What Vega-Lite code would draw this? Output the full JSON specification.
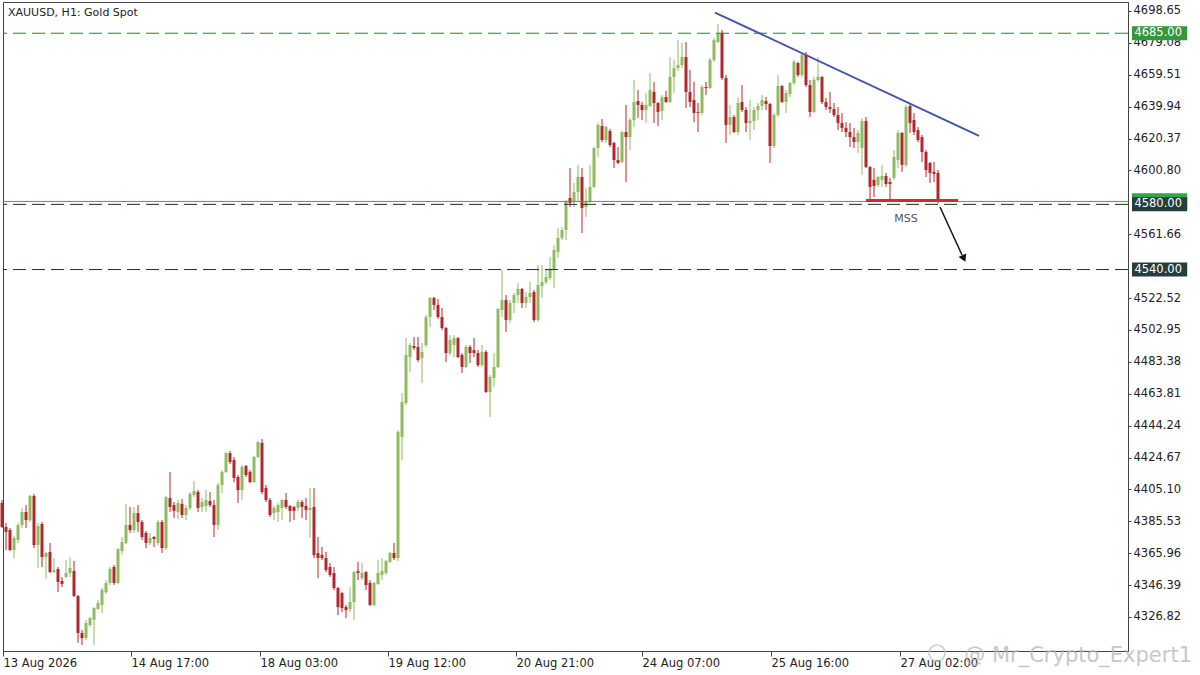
{
  "$schema": "https://vega.github.io/schema/vega-lite/v6.json",
  "width": 1125,
  "height": 649,
  "autosize": {"type": "none"},
  "padding": {"left": 3, "top": 2, "right": 72, "bottom": 24},
  "background": "white",
  "title": {"text": "XAUUSD, H1:  Gold Spot", "anchor": "start", "orient": "top", "frame": "group", "offset": -16, "dx": 5, "fontSize": 11, "fontWeight": "normal", "font": "DejaVu Sans", "color": "#222"},
  "config": {"view": {"stroke": "#444", "strokeWidth": 1}, "font": "DejaVu Sans", "axis": {"labelOverlap": false, "labelSeparation": 0, "labelFlush": false}, "scale": {"continuousPadding": 0}},
  "datasets": {
    "candles": [
      {"i":0,"o":4396.8,"h":4398.6,"l":4381.4,"c":4382.0},
      {"i":1,"o":4382.0,"h":4384.5,"l":4367.9,"c":4379.0},
      {"i":2,"o":4380.2,"h":4381.4,"l":4367.3,"c":4367.9},
      {"i":3,"o":4367.9,"h":4376.5,"l":4363.0,"c":4375.3},
      {"i":4,"o":4374.1,"h":4384.5,"l":4372.2,"c":4383.3},
      {"i":5,"o":4383.3,"h":4393.7,"l":4381.4,"c":4391.2},
      {"i":6,"o":4391.2,"h":4395.5,"l":4381.4,"c":4386.3},
      {"i":7,"o":4386.3,"h":4401.7,"l":4385.1,"c":4401.1},
      {"i":8,"o":4401.1,"h":4402.3,"l":4369.1,"c":4371.0},
      {"i":9,"o":4371.0,"h":4384.5,"l":4356.9,"c":4382.6},
      {"i":10,"o":4383.9,"h":4385.1,"l":4357.5,"c":4363.6},
      {"i":11,"o":4363.6,"h":4366.7,"l":4350.1,"c":4366.1},
      {"i":12,"o":4366.7,"h":4372.2,"l":4353.8,"c":4354.4},
      {"i":13,"o":4354.4,"h":4363.0,"l":4353.8,"c":4355.6},
      {"i":14,"o":4356.3,"h":4357.5,"l":4342.1,"c":4348.3},
      {"i":15,"o":4348.9,"h":4351.4,"l":4345.2,"c":4347.1},
      {"i":16,"o":4351.4,"h":4361.8,"l":4350.7,"c":4353.8},
      {"i":17,"o":4353.8,"h":4363.6,"l":4351.4,"c":4356.9},
      {"i":18,"o":4355.0,"h":4361.2,"l":4339.1,"c":4339.7},
      {"i":19,"o":4339.7,"h":4340.3,"l":4310.9,"c":4317.0},
      {"i":20,"o":4317.0,"h":4318.8,"l":4309.6,"c":4313.9},
      {"i":21,"o":4313.9,"h":4325.0,"l":4312.7,"c":4323.1},
      {"i":22,"o":4321.9,"h":4326.8,"l":4320.7,"c":4326.2},
      {"i":23,"o":4325.0,"h":4332.9,"l":4309.6,"c":4332.3},
      {"i":24,"o":4331.7,"h":4337.2,"l":4331.1,"c":4335.4},
      {"i":25,"o":4334.2,"h":4344.6,"l":4329.3,"c":4343.4},
      {"i":26,"o":4342.1,"h":4349.5,"l":4340.9,"c":4347.7},
      {"i":27,"o":4347.7,"h":4357.5,"l":4346.4,"c":4356.3},
      {"i":28,"o":4357.5,"h":4358.7,"l":4346.4,"c":4347.7},
      {"i":29,"o":4347.7,"h":4369.1,"l":4347.1,"c":4368.5},
      {"i":30,"o":4367.3,"h":4375.9,"l":4364.9,"c":4372.8},
      {"i":31,"o":4372.2,"h":4396.2,"l":4371.6,"c":4383.3},
      {"i":32,"o":4383.3,"h":4394.3,"l":4378.4,"c":4380.2},
      {"i":33,"o":4380.2,"h":4394.3,"l":4378.4,"c":4390.6},
      {"i":34,"o":4390.6,"h":4395.5,"l":4379.0,"c":4385.1},
      {"i":35,"o":4385.1,"h":4386.3,"l":4374.1,"c":4375.9},
      {"i":36,"o":4378.4,"h":4379.6,"l":4369.1,"c":4372.2},
      {"i":37,"o":4372.2,"h":4378.4,"l":4371.0,"c":4375.3},
      {"i":38,"o":4375.9,"h":4376.5,"l":4369.8,"c":4374.7},
      {"i":39,"o":4372.2,"h":4386.3,"l":4371.0,"c":4385.1},
      {"i":40,"o":4385.1,"h":4386.3,"l":4366.1,"c":4369.1},
      {"i":41,"o":4369.1,"h":4401.1,"l":4367.9,"c":4400.4},
      {"i":42,"o":4399.8,"h":4415.8,"l":4391.2,"c":4394.3},
      {"i":43,"o":4395.5,"h":4397.4,"l":4387.6,"c":4391.9},
      {"i":44,"o":4391.2,"h":4398.6,"l":4386.9,"c":4396.8},
      {"i":45,"o":4396.2,"h":4399.2,"l":4387.6,"c":4389.4},
      {"i":46,"o":4389.4,"h":4395.5,"l":4386.3,"c":4393.7},
      {"i":47,"o":4393.7,"h":4403.5,"l":4392.5,"c":4402.3},
      {"i":48,"o":4401.7,"h":4410.3,"l":4400.4,"c":4404.1},
      {"i":49,"o":4403.5,"h":4404.7,"l":4391.2,"c":4393.7},
      {"i":50,"o":4394.3,"h":4399.8,"l":4391.2,"c":4397.4},
      {"i":51,"o":4394.9,"h":4404.7,"l":4391.2,"c":4398.6},
      {"i":52,"o":4398.0,"h":4403.5,"l":4394.3,"c":4395.5},
      {"i":53,"o":4395.5,"h":4398.6,"l":4375.9,"c":4383.3},
      {"i":54,"o":4383.3,"h":4409.0,"l":4380.2,"c":4407.8},
      {"i":55,"o":4407.8,"h":4417.0,"l":4402.9,"c":4415.8},
      {"i":56,"o":4415.8,"h":4428.1,"l":4415.2,"c":4427.4},
      {"i":57,"o":4427.4,"h":4428.7,"l":4420.7,"c":4421.9},
      {"i":58,"o":4423.1,"h":4425.0,"l":4409.6,"c":4412.1},
      {"i":59,"o":4412.7,"h":4413.9,"l":4396.8,"c":4404.7},
      {"i":60,"o":4404.7,"h":4420.1,"l":4398.6,"c":4418.9},
      {"i":61,"o":4419.5,"h":4420.1,"l":4412.7,"c":4413.9},
      {"i":62,"o":4415.8,"h":4417.0,"l":4409.0,"c":4409.6},
      {"i":63,"o":4409.6,"h":4425.6,"l":4409.0,"c":4425.0},
      {"i":64,"o":4425.0,"h":4434.8,"l":4424.4,"c":4434.2},
      {"i":65,"o":4433.6,"h":4436.0,"l":4402.3,"c":4403.5},
      {"i":66,"o":4406.0,"h":4407.8,"l":4397.4,"c":4398.6},
      {"i":67,"o":4398.6,"h":4399.8,"l":4388.2,"c":4389.4},
      {"i":68,"o":4390.6,"h":4394.9,"l":4386.3,"c":4393.7},
      {"i":69,"o":4391.2,"h":4396.8,"l":4385.1,"c":4395.5},
      {"i":70,"o":4393.7,"h":4399.2,"l":4386.3,"c":4398.6},
      {"i":71,"o":4398.6,"h":4402.9,"l":4393.1,"c":4394.3},
      {"i":72,"o":4394.9,"h":4395.5,"l":4385.1,"c":4391.9},
      {"i":73,"o":4394.3,"h":4394.9,"l":4386.3,"c":4391.9},
      {"i":74,"o":4393.7,"h":4399.2,"l":4391.9,"c":4397.4},
      {"i":75,"o":4397.4,"h":4398.6,"l":4387.6,"c":4394.3},
      {"i":76,"o":4394.9,"h":4399.8,"l":4386.3,"c":4392.5},
      {"i":77,"o":4392.5,"h":4406.0,"l":4375.3,"c":4393.7},
      {"i":78,"o":4394.3,"h":4406.0,"l":4363.0,"c":4364.9},
      {"i":79,"o":4366.1,"h":4375.9,"l":4350.7,"c":4363.0},
      {"i":80,"o":4364.9,"h":4369.8,"l":4361.8,"c":4363.0},
      {"i":81,"o":4363.0,"h":4366.7,"l":4354.4,"c":4355.6},
      {"i":82,"o":4357.5,"h":4359.9,"l":4351.4,"c":4352.6},
      {"i":83,"o":4353.8,"h":4357.5,"l":4343.4,"c":4344.6},
      {"i":84,"o":4344.6,"h":4345.2,"l":4328.0,"c":4332.9},
      {"i":85,"o":4341.5,"h":4342.1,"l":4329.9,"c":4332.3},
      {"i":86,"o":4332.9,"h":4334.2,"l":4326.2,"c":4331.1},
      {"i":87,"o":4331.7,"h":4345.2,"l":4329.9,"c":4336.0},
      {"i":88,"o":4336.0,"h":4355.0,"l":4325.0,"c":4354.4},
      {"i":89,"o":4355.0,"h":4360.6,"l":4349.5,"c":4353.8},
      {"i":90,"o":4350.7,"h":4359.9,"l":4349.5,"c":4353.8},
      {"i":91,"o":4354.4,"h":4355.0,"l":4343.4,"c":4346.4},
      {"i":92,"o":4347.7,"h":4349.5,"l":4333.6,"c":4334.2},
      {"i":93,"o":4334.2,"h":4348.3,"l":4333.6,"c":4347.7},
      {"i":94,"o":4347.1,"h":4361.8,"l":4346.4,"c":4353.8},
      {"i":95,"o":4352.6,"h":4363.0,"l":4349.5,"c":4355.0},
      {"i":96,"o":4353.8,"h":4361.8,"l":4352.6,"c":4361.2},
      {"i":97,"o":4360.6,"h":4366.7,"l":4359.9,"c":4366.1},
      {"i":98,"o":4366.1,"h":4372.2,"l":4361.8,"c":4363.0},
      {"i":99,"o":4363.0,"h":4441.6,"l":4361.2,"c":4440.3},
      {"i":100,"o":4437.3,"h":4464.3,"l":4423.1,"c":4458.7},
      {"i":101,"o":4458.1,"h":4498.0,"l":4456.9,"c":4487.6},
      {"i":102,"o":4486.3,"h":4494.9,"l":4477.1,"c":4493.7},
      {"i":103,"o":4493.1,"h":4498.6,"l":4490.6,"c":4491.9},
      {"i":104,"o":4492.5,"h":4498.6,"l":4483.3,"c":4484.5},
      {"i":105,"o":4485.7,"h":4494.9,"l":4470.4,"c":4489.4},
      {"i":106,"o":4493.7,"h":4512.1,"l":4492.5,"c":4510.9},
      {"i":107,"o":4510.9,"h":4523.2,"l":4504.8,"c":4522.6},
      {"i":108,"o":4522.6,"h":4523.2,"l":4515.2,"c":4518.3},
      {"i":109,"o":4518.3,"h":4521.9,"l":4509.7,"c":4510.9},
      {"i":110,"o":4510.9,"h":4516.4,"l":4502.9,"c":4504.1},
      {"i":111,"o":4504.1,"h":4504.8,"l":4483.3,"c":4488.8},
      {"i":112,"o":4488.8,"h":4499.8,"l":4487.6,"c":4496.8},
      {"i":113,"o":4493.7,"h":4499.8,"l":4486.3,"c":4498.0},
      {"i":114,"o":4498.0,"h":4498.6,"l":4485.7,"c":4486.3},
      {"i":115,"o":4487.6,"h":4488.8,"l":4476.5,"c":4480.2},
      {"i":116,"o":4480.2,"h":4493.7,"l":4479.6,"c":4492.5},
      {"i":117,"o":4492.5,"h":4493.7,"l":4482.7,"c":4488.8},
      {"i":118,"o":4490.6,"h":4498.0,"l":4486.3,"c":4488.8},
      {"i":119,"o":4488.8,"h":4490.6,"l":4480.2,"c":4481.4},
      {"i":120,"o":4481.4,"h":4493.7,"l":4480.2,"c":4489.4},
      {"i":121,"o":4489.4,"h":4490.6,"l":4464.3,"c":4464.9},
      {"i":122,"o":4464.9,"h":4475.3,"l":4449.5,"c":4474.1},
      {"i":123,"o":4473.5,"h":4488.8,"l":4467.9,"c":4480.2},
      {"i":124,"o":4480.2,"h":4516.4,"l":4479.6,"c":4515.8},
      {"i":125,"o":4515.2,"h":4539.7,"l":4510.9,"c":4521.3},
      {"i":126,"o":4521.3,"h":4524.4,"l":4501.7,"c":4509.1},
      {"i":127,"o":4509.1,"h":4521.3,"l":4507.2,"c":4519.5},
      {"i":128,"o":4519.5,"h":4525.6,"l":4513.3,"c":4524.4},
      {"i":129,"o":4524.4,"h":4531.8,"l":4519.5,"c":4528.1},
      {"i":130,"o":4528.1,"h":4528.7,"l":4516.4,"c":4519.5},
      {"i":131,"o":4519.5,"h":4526.2,"l":4516.4,"c":4523.2},
      {"i":132,"o":4523.2,"h":4532.4,"l":4519.5,"c":4525.6},
      {"i":133,"o":4526.2,"h":4527.5,"l":4507.8,"c":4509.1},
      {"i":134,"o":4509.1,"h":4542.8,"l":4507.8,"c":4530.5},
      {"i":135,"o":4529.9,"h":4542.8,"l":4522.6,"c":4532.4},
      {"i":136,"o":4532.4,"h":4539.7,"l":4531.1,"c":4535.4},
      {"i":137,"o":4534.8,"h":4547.7,"l":4533.6,"c":4540.3},
      {"i":138,"o":4539.7,"h":4555.1,"l":4528.7,"c":4552.0},
      {"i":139,"o":4550.8,"h":4565.5,"l":4547.1,"c":4559.4},
      {"i":140,"o":4559.4,"h":4566.1,"l":4558.1,"c":4564.3},
      {"i":141,"o":4564.3,"h":4582.7,"l":4558.1,"c":4581.5},
      {"i":142,"o":4583.9,"h":4602.3,"l":4578.4,"c":4580.8},
      {"i":143,"o":4581.5,"h":4593.1,"l":4578.4,"c":4587.6},
      {"i":144,"o":4587.6,"h":4604.2,"l":4581.5,"c":4596.8},
      {"i":145,"o":4596.8,"h":4602.3,"l":4562.4,"c":4577.8},
      {"i":146,"o":4578.4,"h":4590.0,"l":4572.3,"c":4581.5},
      {"i":147,"o":4581.5,"h":4604.2,"l":4580.8,"c":4590.7},
      {"i":148,"o":4590.7,"h":4615.2,"l":4590.0,"c":4614.6},
      {"i":149,"o":4614.6,"h":4629.9,"l":4609.1,"c":4628.7},
      {"i":150,"o":4628.1,"h":4632.4,"l":4618.3,"c":4619.5},
      {"i":151,"o":4619.5,"h":4628.1,"l":4617.7,"c":4627.5},
      {"i":152,"o":4625.0,"h":4626.3,"l":4615.2,"c":4616.4},
      {"i":153,"o":4617.7,"h":4618.3,"l":4602.3,"c":4607.2},
      {"i":154,"o":4607.2,"h":4615.2,"l":4604.8,"c":4605.4},
      {"i":155,"o":4606.0,"h":4625.0,"l":4605.4,"c":4624.4},
      {"i":156,"o":4624.4,"h":4641.0,"l":4593.7,"c":4621.3},
      {"i":157,"o":4621.3,"h":4633.0,"l":4613.4,"c":4631.8},
      {"i":158,"o":4631.8,"h":4656.3,"l":4627.5,"c":4642.8},
      {"i":159,"o":4643.4,"h":4650.2,"l":4633.0,"c":4641.0},
      {"i":160,"o":4641.0,"h":4642.8,"l":4631.8,"c":4637.9},
      {"i":161,"o":4637.9,"h":4648.3,"l":4629.9,"c":4641.0},
      {"i":162,"o":4640.4,"h":4660.6,"l":4639.7,"c":4650.2},
      {"i":163,"o":4649.0,"h":4655.1,"l":4629.9,"c":4642.2},
      {"i":164,"o":4642.2,"h":4642.8,"l":4628.1,"c":4636.7},
      {"i":165,"o":4637.3,"h":4647.1,"l":4631.8,"c":4645.9},
      {"i":166,"o":4645.9,"h":4649.6,"l":4642.2,"c":4642.8},
      {"i":167,"o":4642.8,"h":4670.4,"l":4642.2,"c":4658.2},
      {"i":168,"o":4658.2,"h":4668.6,"l":4648.3,"c":4663.7},
      {"i":169,"o":4663.7,"h":4680.9,"l":4661.8,"c":4665.5},
      {"i":170,"o":4665.5,"h":4679.0,"l":4663.7,"c":4670.4},
      {"i":171,"o":4670.4,"h":4679.6,"l":4639.1,"c":4649.0},
      {"i":172,"o":4649.0,"h":4662.5,"l":4639.7,"c":4642.8},
      {"i":173,"o":4644.0,"h":4655.1,"l":4630.5,"c":4636.1},
      {"i":174,"o":4636.7,"h":4642.2,"l":4624.4,"c":4636.1},
      {"i":175,"o":4636.1,"h":4653.2,"l":4634.8,"c":4652.0},
      {"i":176,"o":4652.0,"h":4655.1,"l":4647.1,"c":4651.4},
      {"i":177,"o":4651.4,"h":4669.8,"l":4650.8,"c":4668.6},
      {"i":178,"o":4668.6,"h":4682.1,"l":4667.4,"c":4680.9},
      {"i":179,"o":4679.6,"h":4690.7,"l":4679.0,"c":4685.2},
      {"i":180,"o":4685.2,"h":4687.0,"l":4656.3,"c":4657.5},
      {"i":181,"o":4657.5,"h":4659.4,"l":4617.7,"c":4628.7},
      {"i":182,"o":4628.7,"h":4641.0,"l":4622.6,"c":4633.6},
      {"i":183,"o":4633.6,"h":4634.8,"l":4623.8,"c":4624.4},
      {"i":184,"o":4624.4,"h":4645.9,"l":4622.6,"c":4642.2},
      {"i":185,"o":4642.8,"h":4653.2,"l":4636.7,"c":4637.9},
      {"i":186,"o":4637.9,"h":4639.7,"l":4624.4,"c":4629.9},
      {"i":187,"o":4629.9,"h":4644.0,"l":4619.5,"c":4631.2},
      {"i":188,"o":4631.2,"h":4639.7,"l":4625.6,"c":4637.9},
      {"i":189,"o":4637.9,"h":4642.2,"l":4631.8,"c":4640.4},
      {"i":190,"o":4640.4,"h":4647.1,"l":4637.9,"c":4644.0},
      {"i":191,"o":4643.4,"h":4645.9,"l":4637.9,"c":4641.6},
      {"i":192,"o":4641.6,"h":4642.2,"l":4605.4,"c":4615.8},
      {"i":193,"o":4615.8,"h":4636.1,"l":4614.6,"c":4634.8},
      {"i":194,"o":4634.8,"h":4659.4,"l":4633.6,"c":4652.6},
      {"i":195,"o":4652.6,"h":4653.2,"l":4642.2,"c":4642.8},
      {"i":196,"o":4642.8,"h":4650.2,"l":4636.1,"c":4648.3},
      {"i":197,"o":4647.7,"h":4655.1,"l":4645.9,"c":4654.5},
      {"i":198,"o":4654.5,"h":4668.6,"l":4653.2,"c":4667.4},
      {"i":199,"o":4666.7,"h":4667.4,"l":4658.2,"c":4659.4},
      {"i":200,"o":4659.4,"h":4672.9,"l":4658.2,"c":4671.7},
      {"i":201,"o":4671.7,"h":4673.5,"l":4652.0,"c":4653.2},
      {"i":202,"o":4653.2,"h":4656.3,"l":4633.6,"c":4636.7},
      {"i":203,"o":4636.7,"h":4658.2,"l":4636.1,"c":4656.3},
      {"i":204,"o":4656.3,"h":4670.4,"l":4655.1,"c":4658.2},
      {"i":205,"o":4658.2,"h":4658.8,"l":4641.6,"c":4642.8},
      {"i":206,"o":4642.8,"h":4645.3,"l":4637.9,"c":4639.7},
      {"i":207,"o":4639.7,"h":4649.0,"l":4636.1,"c":4638.5},
      {"i":208,"o":4638.5,"h":4642.2,"l":4633.6,"c":4634.8},
      {"i":209,"o":4634.8,"h":4639.7,"l":4625.6,"c":4629.9},
      {"i":210,"o":4629.9,"h":4636.1,"l":4624.4,"c":4626.9},
      {"i":211,"o":4626.9,"h":4630.5,"l":4621.3,"c":4624.4},
      {"i":212,"o":4624.4,"h":4629.9,"l":4615.2,"c":4621.3},
      {"i":213,"o":4621.3,"h":4626.9,"l":4614.6,"c":4618.3},
      {"i":214,"o":4618.3,"h":4625.6,"l":4611.5,"c":4623.8},
      {"i":215,"o":4614.6,"h":4633.0,"l":4598.0,"c":4631.2},
      {"i":216,"o":4631.2,"h":4633.6,"l":4602.3,"c":4602.9},
      {"i":217,"o":4602.9,"h":4603.5,"l":4582.7,"c":4590.7},
      {"i":218,"o":4595.0,"h":4602.3,"l":4584.5,"c":4591.3},
      {"i":219,"o":4591.9,"h":4597.4,"l":4590.7,"c":4596.8},
      {"i":220,"o":4595.0,"h":4604.2,"l":4590.7,"c":4597.4},
      {"i":221,"o":4597.4,"h":4599.3,"l":4590.7,"c":4592.5},
      {"i":222,"o":4593.7,"h":4596.2,"l":4582.7,"c":4592.5},
      {"i":223,"o":4596.2,"h":4613.4,"l":4594.9,"c":4609.1},
      {"i":224,"o":4607.2,"h":4625.6,"l":4602.3,"c":4623.8},
      {"i":225,"o":4623.8,"h":4624.4,"l":4599.9,"c":4604.2},
      {"i":226,"o":4604.2,"h":4641.0,"l":4602.9,"c":4639.7},
      {"i":227,"o":4640.4,"h":4641.6,"l":4623.8,"c":4629.9},
      {"i":228,"o":4631.8,"h":4636.1,"l":4622.6,"c":4624.4},
      {"i":229,"o":4625.6,"h":4627.5,"l":4618.3,"c":4619.5},
      {"i":230,"o":4621.3,"h":4622.6,"l":4606.0,"c":4612.1},
      {"i":231,"o":4612.1,"h":4613.4,"l":4596.8,"c":4601.1},
      {"i":232,"o":4605.4,"h":4606.0,"l":4593.1,"c":4599.3},
      {"i":233,"o":4599.9,"h":4606.0,"l":4593.7,"c":4598.6},
      {"i":234,"o":4599.3,"h":4601.1,"l":4580.5,"c":4581.8}
    ],
    "levels": [
      {"level": 4685, "kind": "resistance"},
      {"level": 4580, "kind": "support"},
      {"level": 4540, "kind": "target"}
    ],
    "quote": [{"level": 4581.8}],
    "tags": [
      {"level": 4582.6, "label": "", "kind": "bid"},
      {"level": 4685, "label": "4685.00", "kind": "resistance"},
      {"level": 4580, "label": "4580.00", "kind": "support"},
      {"level": 4540, "label": "4540.00", "kind": "target"}
    ],
    "trend": [{"i": 178.25, "p": 4697.7, "i2": 244.25, "p2": 4622.0}],
    "mss": [{"i": 216, "i2": 239, "p": 4582.4}],
    "mssLabel": [{"i": 226, "p": 4571.0, "text": "MSS"}],
    "arrow": [{"i": 234.5, "p": 4578.4, "i2": 240, "p2": 4548.9}],
    "arrowHead": [{"i": 240.47, "p": 4546.8}],
    "mark": [{"i": 297.5, "p": 4302.9, "text": "@ Mr_Crypto_Expert1", "ii": 233.75, "pp": 4304.7}]
  },
  "layer": [
    {
      "data": {"name": "candles"},
      "mark": {"type": "rule", "strokeWidth": 1},
      "encoding": {
        "x": {"field": "i", "type": "quantitative",
          "scale": {"domain": [0.25, 281.5], "nice": false, "zero": false, "padding": 0},
          "axis": {"orient": "bottom", "title": null, "grid": false,
            "values": [0.25, 32.25, 64.5, 96.5, 128.5, 160, 192.25, 224.5], "tickCount": 40,
            "labelExpr": "['13 Aug 2026','14 Aug 17:00','18 Aug 03:00','19 Aug 12:00','20 Aug 21:00','24 Aug 07:00','25 Aug 16:00','27 Aug 02:00'][round((datum.value-0.25)/32)]",
            "labelAlign": "left", "labelBaseline": "top", "labelPadding": 1, "tickSize": 5,
            "labelFont": "DejaVu Sans", "labelFontSize": 11.5, "labelColor": "#222",
            "domainColor": "#444", "tickColor": "#444", "labelOverlap": false, "labelFlush": false}},
        "y": {"field": "l", "type": "quantitative",
          "scale": {"domain": [4305.95, 4704.17], "nice": false, "zero": false, "padding": 0},
          "axis": {"orient": "right", "title": null, "grid": false,
            "values": [4326.82, 4346.39, 4365.96, 4385.53, 4405.10, 4424.67, 4444.24, 4463.81, 4483.38, 4502.95, 4522.52, 4561.66, 4600.80, 4620.37, 4639.94, 4659.51, 4679.08, 4698.65], "tickCount": 40,
            "format": ".2f", "tickSize": 3, "labelPadding": 2, "labelBaseline": "middle",
            "labelFont": "DejaVu Sans", "labelFontSize": 11.5, "labelColor": "#222",
            "domainColor": "#444", "tickColor": "#444", "labelOverlap": false, "labelSeparation": 0, "labelFlush": false}},
        "y2": {"field": "h"},
        "color": {"condition": {"test": "datum.c >= datum.o", "value": "#8dbb5f"}, "value": "#b3262b"}
      }
    },
    {
      "data": {"name": "candles"},
      "mark": {"type": "bar", "size": 3},
      "encoding": {
        "x": {"field": "i", "type": "quantitative"},
        "y": {"field": "o", "type": "quantitative"},
        "y2": {"field": "c"},
        "color": {"condition": {"test": "datum.c >= datum.o", "value": "#8dbb5f"}, "value": "#b3262b"}
      }
    },
    {
      "data": {"name": "levels"},
      "mark": {"type": "rule", "strokeWidth": 1, "strokeDash": [13, 6]},
      "encoding": {
        "y": {"field": "level", "type": "quantitative"},
        "color": {"condition": {"test": "datum.kind === 'resistance'", "value": "#2e7d32"}, "value": "#1e2d2d"}
      }
    },
    {
      "data": {"name": "quote"},
      "mark": {"type": "rule", "strokeWidth": 1, "color": "#3da34a"},
      "encoding": {"y": {"field": "level", "type": "quantitative"}}
    },
    {
      "data": {"name": "trend"},
      "mark": {"type": "rule", "strokeWidth": 2, "color": "#4555ad"},
      "encoding": {
        "x": {"field": "i", "type": "quantitative"},
        "x2": {"field": "i2"},
        "y": {"field": "p", "type": "quantitative"},
        "y2": {"field": "p2"}
      }
    },
    {
      "data": {"name": "mss"},
      "mark": {"type": "rule", "strokeWidth": 3, "color": "#d42a2a"},
      "encoding": {
        "x": {"field": "i", "type": "quantitative"},
        "x2": {"field": "i2"},
        "y": {"field": "p", "type": "quantitative"}
      }
    },
    {
      "data": {"name": "mssLabel"},
      "mark": {"type": "text", "fontSize": 11, "color": "#555", "align": "center", "baseline": "middle", "font": "DejaVu Sans"},
      "encoding": {
        "x": {"field": "i", "type": "quantitative"},
        "y": {"field": "p", "type": "quantitative"},
        "text": {"field": "text"}
      }
    },
    {
      "data": {"name": "arrow"},
      "mark": {"type": "rule", "strokeWidth": 1.5, "color": "#111"},
      "encoding": {
        "x": {"field": "i", "type": "quantitative"},
        "x2": {"field": "i2"},
        "y": {"field": "p", "type": "quantitative"},
        "y2": {"field": "p2"}
      }
    },
    {
      "data": {"name": "arrowHead"},
      "mark": {"type": "point", "shape": "triangle-down", "filled": true, "color": "#111", "size": 70, "angle": 335, "opacity": 1},
      "encoding": {
        "x": {"field": "i", "type": "quantitative"},
        "y": {"field": "p", "type": "quantitative"}
      }
    },
    {
      "data": {"name": "tags"},
      "mark": {"type": "bar", "orient": "horizontal", "size": 14},
      "encoding": {
        "x": {"datum": 282.5, "type": "quantitative"},
        "x2": {"datum": 296.3},
        "y": {"field": "level", "type": "quantitative"},
        "color": {"condition": {"test": "datum.kind === 'resistance'", "value": "#35963a"}, "value": {"expr": "datum.kind === 'bid' ? '#2ea84a' : '#263d3d'"}}
      }
    },
    {
      "data": {"name": "tags"},
      "mark": {"type": "text", "align": "left", "baseline": "middle", "fontSize": 11.5, "color": "white", "font": "DejaVu Sans"},
      "encoding": {
        "x": {"datum": 283.1, "type": "quantitative"},
        "y": {"field": "level", "type": "quantitative"},
        "text": {"field": "label"}
      }
    },
    {
      "data": {"name": "mark"},
      "mark": {"type": "text", "align": "right", "baseline": "middle", "fontSize": 21, "color": "#b5b5b5", "opacity": 0.75, "font": "DejaVu Sans"},
      "encoding": {
        "x": {"field": "i", "type": "quantitative"},
        "y": {"field": "p", "type": "quantitative"},
        "text": {"field": "text"}
      }
    },
    {
      "data": {"name": "mark"},
      "mark": {"type": "point", "shape": "circle", "filled": false, "size": 256, "strokeWidth": 1.5, "color": "#c0c0c0", "opacity": 0.8},
      "encoding": {
        "x": {"field": "ii", "type": "quantitative"},
        "y": {"field": "pp", "type": "quantitative"}
      }
    }
  ]
}
